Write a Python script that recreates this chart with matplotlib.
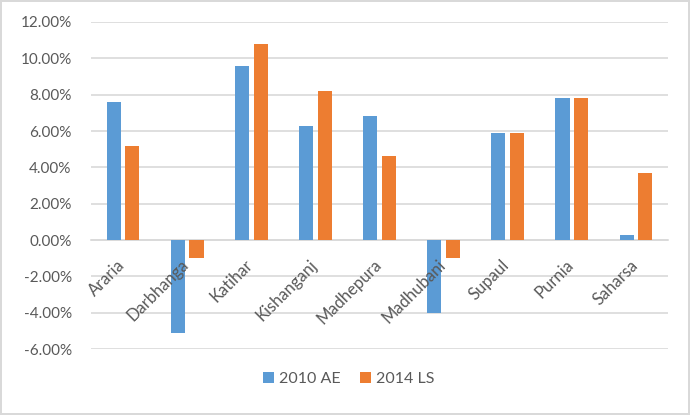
import matplotlib.pyplot as plt
import matplotlib.transforms as mtransforms
import numpy as np
from matplotlib.ticker import FuncFormatter

# === DATA ===
districts = ["Araria", "Darbhanga", "Katihar", "Kishanganj", "Madhepura",
             "Madhubani", "Supaul", "Purnia", "Saharsa"]
ae_2010 = [7.6, -5.1, 9.6, 6.3, 6.8, -4.0, 5.9, 7.8, 0.25]
ls_2014 = [5.2, -1.0, 10.8, 8.2, 4.6, -1.0, 5.9, 7.8, 3.7]
series_names = ["2010 AE", "2014 LS"]

# === STYLE ===
BLUE = "#5B9BD5"
ORANGE = "#ED7D31"
GRID = "#D9D9D9"
TEXT = "#595959"
plt.rcParams['font.family'] = ['Lato', 'DejaVu Sans']
plt.rcParams['font.size'] = 11

fig = plt.figure(figsize=(6.9, 4.15), dpi=100)
fig.patch.set_edgecolor(GRID)
fig.patch.set_linewidth(1.5)
ax = fig.add_axes([0.132, 0.159, 0.836, 0.788])

x = np.arange(len(districts))
w = 0.22
off = 0.145
ax.bar(x - off, ae_2010, w, color=BLUE, label=series_names[0], zorder=3)
ax.bar(x + off, ls_2014, w, color=ORANGE, label=series_names[1], zorder=3)

ax.set_xlim(-0.5, len(districts) - 0.5)
ax.set_ylim(-6, 12)
ax.set_yticks(np.arange(-6, 13, 2))
ax.yaxis.set_major_formatter(FuncFormatter(lambda v, p: f"{v:.2f}%"))
ax.grid(axis='y', color=GRID, linewidth=1.2, zorder=0)

for s in ["top", "right", "left"]:
    ax.spines[s].set_visible(False)
ax.spines["bottom"].set_position(("data", 0))
ax.spines["bottom"].set_color(GRID)
ax.spines["bottom"].set_linewidth(1.2)

ax.set_xticks(x)
ax.set_xticklabels(districts)
ax.tick_params(axis='x', length=0, pad=12, colors=TEXT, labelsize=12)
ax.tick_params(axis='y', length=0, pad=14, colors=TEXT, labelsize=11)
shift = mtransforms.ScaledTranslation(5 / 100, 0, fig.dpi_scale_trans)
for lbl in ax.get_xticklabels():
    lbl.set_rotation(45)
    lbl.set_ha('right')
    lbl.set_transform(lbl.get_transform() + shift)
# category labels are drawn over the bars, as in the original
ax.xaxis.set_zorder(5)

fig.legend(loc='lower center', bbox_to_anchor=(0.505, 0.035), ncol=2, frameon=False,
           handlelength=0.7, handleheight=0.7, handletextpad=0.3, columnspacing=1.2,
           labelcolor=TEXT, fontsize=11.5)

fig.savefig("out.png", dpi=100)
